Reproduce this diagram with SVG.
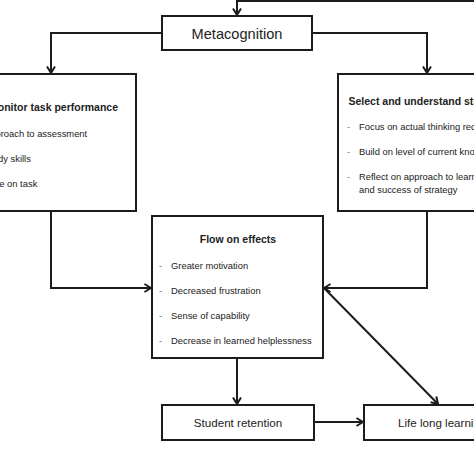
<svg xmlns="http://www.w3.org/2000/svg" width="474" height="474" viewBox="0 0 474 474">
<style>
.box{fill:#fff;stroke:#1c1c1c;stroke-width:2}
.con{fill:none;stroke:#1c1c1c;stroke-width:2}
text{font-family:"Liberation Sans",Arial,sans-serif;fill:#222}
.big{font-size:14.6px}
.mid{font-size:11.6px}
.ttl{font-size:10.5px;font-weight:bold}
.itm{font-size:9.4px}
.dash{font-size:9.4px;fill:#777}
</style>
<defs>
<marker id="arr" viewBox="0 0 10 10" refX="9" refY="5" markerWidth="10" markerHeight="10" markerUnits="userSpaceOnUse" orient="auto">
<path d="M2.5,1 L9,5 L2.5,9" fill="none" stroke="#1c1c1c" stroke-width="2"/>
</marker>
</defs>
<rect width="474" height="474" fill="#fff"/>
<g id="connectors">
<path class="con" d="M474,1 H237 V15" marker-end="url(#arr)"/>
<path class="con" d="M162,33 H51 V73" marker-end="url(#arr)"/>
<path class="con" d="M312,33 H427 V73" marker-end="url(#arr)"/>
<path class="con" d="M51,211 V288 H151" marker-end="url(#arr)"/>
<path class="con" d="M427,211 V288 H324" marker-end="url(#arr)"/>
<path class="con" d="M324,288 L438,404" marker-end="url(#arr)"/>
<path class="con" d="M237,358 V404" marker-end="url(#arr)"/>
<path class="con" d="M314,422 H363" marker-end="url(#arr)"/>
</g>
<g id="metacognition">
<rect class="box" x="162" y="16" width="150" height="34"/>
<text class="big" x="237" y="39" text-anchor="middle">Metacognition</text>
</g>
<g id="monitor">
<rect class="box" x="-40" y="74" width="176" height="137"/>
<text class="ttl" x="118" y="111" text-anchor="end">Monitor task performance</text>
<text class="dash" x="-27" y="136.5">-</text>
<text class="itm" x="-16" y="136.5">Approach to assessment</text>
<text class="dash" x="-27" y="161.5">-</text>
<text class="itm" x="-16" y="161.5">Study skills</text>
<text class="dash" x="-27" y="186.5">-</text>
<text class="itm" x="-16" y="186.5">Time on task</text>
</g>
<g id="select">
<rect class="box" x="338" y="74" width="180" height="137"/>
<text class="ttl" x="348.5" y="105">Select and understand strategies</text>
<text class="dash" x="347" y="129.5">-</text>
<text class="itm" x="359" y="129.5">Focus on actual thinking required</text>
<text class="dash" x="347" y="154.5">-</text>
<text class="itm" x="359" y="154.5">Build on level of current knowledge</text>
<text class="dash" x="347" y="179.5">-</text>
<text class="itm" x="359" y="179.5">Reflect on approach to learning</text>
<text class="itm" x="359" y="192.5">and success of strategy</text>
</g>
<g id="flow">
<rect class="box" x="152" y="216" width="171" height="142"/>
<text class="ttl" x="238" y="243" text-anchor="middle">Flow on effects</text>
<text class="dash" x="159" y="268.5">-</text>
<text class="itm" x="171" y="268.5">Greater motivation</text>
<text class="dash" x="159" y="293.5">-</text>
<text class="itm" x="171" y="293.5">Decreased frustration</text>
<text class="dash" x="159" y="318.5">-</text>
<text class="itm" x="171" y="318.5">Sense of capability</text>
<text class="dash" x="159" y="343.5">-</text>
<text class="itm" x="171" y="343.5">Decrease in learned helplessness</text>
</g>
<g id="retention">
<rect class="box" x="162" y="405" width="152" height="35"/>
<text class="mid" x="238" y="427" text-anchor="middle">Student retention</text>
</g>
<g id="lifelong">
<rect class="box" x="364" y="405" width="150" height="35"/>
<text class="mid" x="398" y="427">Life long learning</text>
</g>
</svg>
